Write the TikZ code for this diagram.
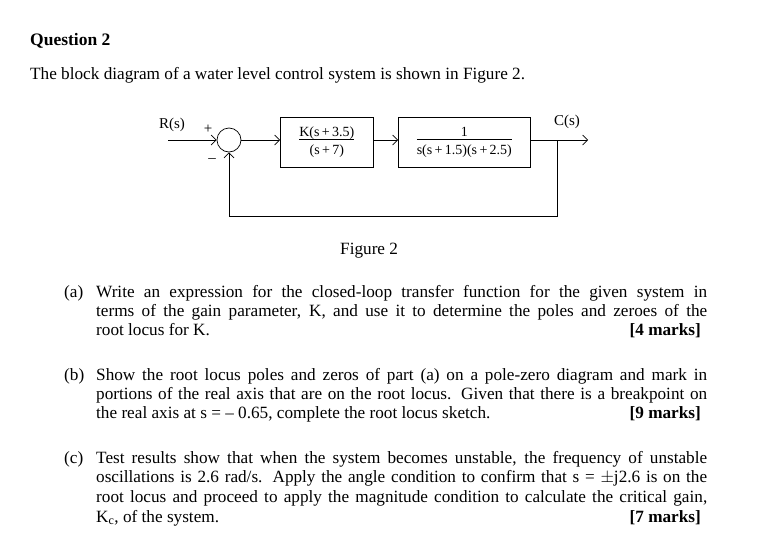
\documentclass[tikz,border=0pt]{standalone}
\usepackage{fontspec}
\setmainfont{Liberation Serif}
\usetikzlibrary{arrows.meta}
\newcommand{\jl}[1]{\makebox[611pt][s]{#1}}
\begin{document}
\begin{tikzpicture}[x=1pt,y=-1pt,
  txt/.style={anchor=base west,inner sep=0,font=\fontsize{17.2}{20}\selectfont},
  rt/.style={anchor=base east,inner sep=0,font=\fontsize{17.2}{20}\selectfont\bfseries},
  blk/.style={draw,line width=0.7pt,minimum height=50pt,font=\fontsize{14}{16}\selectfont},
  lbl/.style={inner sep=0,font=\fontsize{15}{16}\selectfont},
  sig/.style={line width=0.7pt,-{Straight Barb[length=5pt,width=10pt]}},
  ln/.style={line width=0.7pt}]
\path[use as bounding box] (0,0) rectangle (783,554);
\node[txt,font=\fontsize{17.5}{20}\selectfont\bfseries] (q) at (30,45) {Question 2};
\node[txt] (intro) at (30,79) {The block diagram of a water level control system is shown in Figure 2.};
% diagram
\node[draw,circle,line width=0.7pt,minimum size=24pt,inner sep=0] (sum) at (229,140) {};
\coordinate (rin) at (168,140);
\node[lbl] (R) at (172,125) {R(s)};
\node[lbl] (plus) at (208,129) {+};
\node[lbl] (minus) at (212,161) {\textendash};
\node[blk,anchor=north west,minimum width=93pt] (g1) at (280,117)
 {\begin{tabular}{@{}c@{}}K(s\,+\,3.5)\\[-2pt]\hline\rule{0pt}{15pt}(s\,+\,7)\end{tabular}};
\node[blk,anchor=north west,minimum width=132pt] (g2) at (398,117)
 {\begin{tabular}{@{}c@{}}1\\[-2pt]\hline\rule{0pt}{15pt}s(s\,+\,1.5)(s\,+\,2.5)\end{tabular}};
\coordinate (out) at (588,140);
\coordinate (br) at (557,140);
\node[lbl] (C) at (567,122) {C(s)};
\coordinate (fb1) at (557,216);
\coordinate (fb2) at (229,216);
\draw[sig] (rin) -- (sum);
\draw[sig] (sum) -- (sum -| g1.west);
\draw[sig] (g1.east |- sum) -- (g2.west |- sum);
\draw[sig] (g2.east |- sum) -- (out);
\draw[sig] (br) -- (fb1) -- (fb2) -- (sum);
\node[txt] (fig) at (340,254) {Figure 2};
% (a)
\node[txt] (a) at (64,297) {(a)};
\node[txt] (a1) at (96,297) {\jl{Write an expression for the closed-loop transfer function for the given system in}};
\node[txt] (a2) at (96,316) {\jl{terms of the gain parameter, K, and use it to determine the poles and zeroes of the}};
\node[txt] (a3) at (96,335) {root locus for K.};
\node[rt] (am) at (701,335) {[4 marks]};
% (b)
\node[txt] (b) at (64,380) {(b)};
\node[txt] (b1) at (96,380) {\jl{Show the root locus poles and zeros of part (a) on a pole-zero diagram and mark in}};
\node[txt] (b2) at (96,399) {\jl{portions of the real axis that are on the root locus. Given that there is a breakpoint on}};
\node[txt] (b3) at (96,418) {the real axis at s = \textendash{} 0.65, complete the root locus sketch.};
\node[rt] (bm) at (701,418) {[9 marks]};
% (c)
\node[txt] (c) at (64,463) {(c)};
\node[txt] (c1) at (96,463) {\jl{Test results show that when the system becomes unstable, the frequency of unstable}};
\node[txt] (c2) at (96,482) {\jl{oscillations is 2.6 rad/s. Apply the angle condition to confirm that s = $\pm$j2.6 is on the}};
\node[txt] (c3) at (96,502) {\jl{root locus and proceed to apply the magnitude condition to calculate the critical gain,}};
\node[txt] (c4) at (96,522) {K\textsubscript{c}, of the system.};
\node[rt] (cm) at (701,522) {[7 marks]};
\end{tikzpicture}
\end{document}
